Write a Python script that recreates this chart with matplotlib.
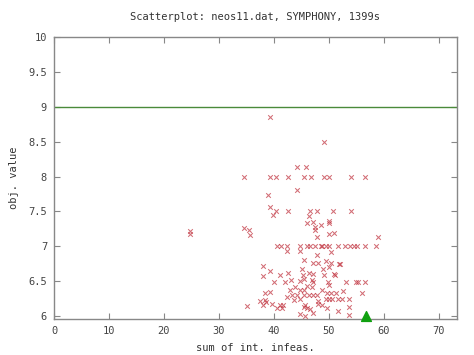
import matplotlib
matplotlib.use('Agg')
import matplotlib.pyplot as plt
from matplotlib.ticker import FuncFormatter

# scatter points (sum of int. infeas., obj. value)
sum_infeas = [
    39.2, 49.2, 44.2, 45.9,
    34.5, 39.2, 40.3, 42.5, 45.5, 46.8, 49.2, 50.0, 54.1, 56.6,
    44.2, 39.0, 39.3, 40.3, 42.5, 46.5, 47.8, 50.8, 54.1,
    39.9, 46.3, 46.1, 47.2, 48.5, 50.0, 47.4, 47.5, 50.1,
    34.5, 35.4, 35.6, 47.8, 50.0, 50.9, 58.9, 24.8, 24.8,
    40.6, 41.3, 42.4, 44.8, 46.0, 46.6, 47.5, 48.5, 48.8, 49.4, 50.0,
    51.7, 52.9, 53.9, 54.5, 55.1, 56.6, 58.6,
    42.3, 44.8, 50.3, 47.8, 45.4, 47.1, 48.0, 49.4, 50.3, 51.8, 52.0,
    38.1, 39.2, 38.1, 41.2, 42.5, 45.1, 45.3, 46.3, 47.1, 48.9, 50.0, 50.9,
    49.1, 51.2, 46.9, 47.2, 45.4, 40.0, 42.1, 43.1, 44.8,
    49.9, 50.0, 53.1, 55.0, 55.3, 56.5, 46.0, 46.9,
    38.3, 39.3, 42.9, 43.9, 44.8, 45.4, 48.8, 49.7, 50.3, 51.3, 52.5, 56.0,
    43.3, 44.2, 45.4, 46.3, 47.2, 47.8,
    37.4, 38.4, 38.1, 39.7, 40.6, 41.5, 42.4, 43.6, 44.8, 45.7, 45.4, 46.0,
    46.6, 48.1, 48.8, 49.4, 50.0, 50.6, 51.7, 52.3, 53.7, 48.1,
    49.7, 51.7, 53.6, 53.6, 45.7, 44.8, 47.2, 35.1, 41.2, 41.7, 38.6,
]
obj_value = [
    8.85, 8.50, 8.14, 8.13,
    8.00, 8.00, 8.00, 8.00, 8.00, 8.00, 8.00, 8.00, 8.00, 8.00,
    7.81, 7.74, 7.56, 7.50, 7.50, 7.50, 7.50, 7.50, 7.50,
    7.45, 7.43, 7.34, 7.35, 7.30, 7.37, 7.28, 7.23, 7.33,
    7.26, 7.24, 7.16, 7.14, 7.17, 7.19, 7.13, 7.22, 7.18,
    7.00, 7.00, 7.00, 7.00, 7.00, 7.00, 7.00, 7.00, 7.00, 7.00, 7.00,
    7.00, 7.00, 7.00, 7.00, 7.00, 7.00, 7.00,
    6.94, 6.94, 6.92, 6.87, 6.81, 6.76, 6.76, 6.79, 6.76, 6.75, 6.75,
    6.72, 6.65, 6.57, 6.59, 6.62, 6.67, 6.59, 6.62, 6.61, 6.68, 6.70, 6.61,
    6.59, 6.59, 6.52, 6.49, 6.53, 6.49, 6.49, 6.52, 6.51,
    6.49, 6.44, 6.49, 6.49, 6.49, 6.49, 6.43, 6.42,
    6.33, 6.35, 6.38, 6.42, 6.38, 6.37, 6.37, 6.33, 6.33, 6.33, 6.36, 6.33,
    6.31, 6.31, 6.31, 6.31, 6.31, 6.31,
    6.22, 6.23, 6.16, 6.18, 6.12, 6.12, 6.28, 6.23, 6.24, 6.16, 6.13, 6.11,
    6.10, 6.21, 6.16, 6.24, 6.24, 6.24, 6.24, 6.24, 6.24, 6.18,
    6.11, 6.08, 6.13, 6.01, 6.00, 6.03, 6.05, 6.14, 6.16, 6.16, 6.20,
]

best_x = [56.7]
best_y = [6.0]
bound = 9.0

plt.rcParams['font.family'] = ['DejaVu Sans Mono']
fig = plt.figure(figsize=(4.74, 3.55), dpi=100)
ax = fig.add_axes([0.114, 0.101, 0.850, 0.795])

ax.scatter(sum_infeas, obj_value, marker='x', s=11, linewidths=0.75,
           color='#c0303c', alpha=0.7, zorder=3)
ax.axhline(bound, color='#4a8a3a', linewidth=1.0, zorder=2)
ax.scatter(best_x, best_y, marker='^', s=50, color='#10a010', zorder=4,
           clip_on=False)

ax.set_xlim(0, 73.3)
ax.set_ylim(5.957, 10)
ax.set_xticks(range(0, 71, 10))
ax.set_yticks([6, 6.5, 7, 7.5, 8, 8.5, 9, 9.5, 10])
ax.yaxis.set_major_formatter(FuncFormatter(lambda v, p: '%g' % v))

for s in ax.spines.values():
    s.set_color('#888888')
    s.set_linewidth(1.0)
ax.tick_params(direction='in', top=True, right=True, length=4,
               color='#888888', labelcolor='#444444', labelsize=7.5, pad=5)

ax.set_title('Scatterplot: neos11.dat, SYMPHONY, 1399s', fontsize=7.5,
             color='#333333', pad=12)
ax.set_xlabel('sum of int. infeas.', fontsize=7.5, color='#333333', labelpad=5)
ax.set_ylabel('obj. value', fontsize=7.5, color='#333333', labelpad=7)

fig.savefig('out.png', dpi=100)
